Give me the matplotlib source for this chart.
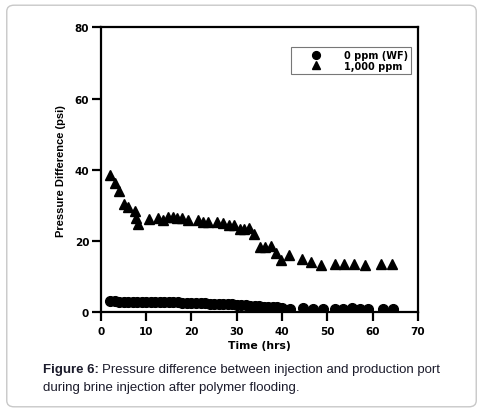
import matplotlib.pyplot as plt
from matplotlib.patches import FancyBboxPatch

plt.rcParams['font.family'] = ['Liberation Sans', 'DejaVu Sans']

# Data
t_wf = [2, 3, 4, 5, 6, 7, 8, 9, 10, 11, 12, 13, 14, 15, 16, 17, 18, 19, 20,
        21, 22, 23, 24, 25, 26, 27, 28, 29, 30, 31, 32, 33, 34, 35, 36, 37,
        38, 39, 40, 41.7, 44.7, 46.9, 49.1, 51.7, 53.5, 55.4, 57.2, 59.0,
        62.3, 64.5]
dp_wf = [3.1, 3.1, 3.0, 3.0, 3.0, 2.9, 2.9, 2.8, 2.9, 2.9, 2.8, 2.8, 2.9,
         2.9, 2.9, 2.8, 2.7, 2.6, 2.6, 2.5, 2.6, 2.5, 2.4, 2.4, 2.3, 2.3,
         2.2, 2.2, 2.1, 2.0, 2.0, 1.9, 1.8, 1.7, 1.6, 1.5, 1.5, 1.4, 1.3,
         1.0, 1.1, 1.0, 0.9, 0.9, 1.0, 1.1, 1.0, 0.8, 1.0, 0.8]

t_poly = [2, 3, 4, 5, 6, 7.5, 7.7, 8.1, 10.6, 12.6, 13.7, 14.9, 16, 16.9, 18,
          19.3, 21.4, 22.5, 23.6, 25.6, 26.9, 28.2, 29.4, 30.8, 31.7, 32.8,
          33.8, 35.2, 36.3, 37.6, 38.7, 39.8, 41.5, 44.4, 46.5, 48.7, 51.7,
          53.7, 55.9, 58.3, 61.8, 64.4]
dp_poly = [38.7, 36.2, 34.0, 30.3, 29.7, 28.4, 26.4, 24.7, 26.1, 26.4, 25.9,
           26.8, 26.8, 26.6, 26.4, 25.8, 25.9, 25.4, 25.4, 25.4, 25.0, 24.4,
           24.4, 23.3, 23.3, 23.6, 21.9, 18.4, 18.4, 18.7, 16.8, 14.6, 16.2,
           14.9, 14.2, 13.2, 13.7, 13.7, 13.7, 13.2, 13.7, 13.7]

fig = plt.figure(figsize=(4.83, 4.14), dpi=100)

# rounded frame around the figure panel
frame = FancyBboxPatch((0.014, 0.015), 0.972, 0.97,
                       boxstyle='round,pad=0,rounding_size=0.015',
                       transform=fig.transFigure, facecolor='none',
                       edgecolor='#c8c8c8', linewidth=1.0, zorder=-1)
fig.patches.append(frame)

ax = fig.add_axes([0.209, 0.2432, 0.656, 0.688])
ax.plot(t_wf, dp_wf, 'o', color='black', markersize=7, label='0 ppm (WF)')
ax.plot(t_poly, dp_poly, '^', color='black', markersize=7, label='1,000 ppm')

ax.set_xlim(0, 70)
ax.set_ylim(0, 80)
ax.set_xticks([0, 10, 20, 30, 40, 50, 60, 70])
ax.set_yticks([0, 20, 40, 60, 80])
for s in ax.spines.values():
    s.set_linewidth(1.6)
ax.tick_params(direction='out', length=6.5, width=1.6, labelsize=7.5, pad=2)
ax.tick_params(axis='x', pad=3)
for lbl in ax.get_xticklabels() + ax.get_yticklabels():
    lbl.set_fontweight('bold')
    lbl.set_family('DejaVu Sans')

ax.set_xlabel('Time (hrs)', fontsize=7.8, fontweight='bold', labelpad=3,
              family='DejaVu Sans')
ax.set_ylabel('Pressure Difference (psi)', fontsize=8, fontweight='bold',
              labelpad=6)

leg = ax.legend(loc='upper right', bbox_to_anchor=(0.978, 0.9315),
                borderaxespad=0, prop={'size': 7, 'weight': 'bold',
                                       'family': 'DejaVu Sans'},
                frameon=True, fancybox=False, edgecolor='#555555',
                handlelength=4.5, handletextpad=0.6, borderpad=0.3,
                labelspacing=0.1, markerscale=0.8)
leg.get_frame().set_linewidth(0.8)

# caption
cap1 = fig.text(0.089, 0.098, 'Figure 6:', fontsize=9.5, fontweight='bold',
                color='#1c1c2c')
fig.canvas.draw()
bb = cap1.get_window_extent()
x2 = bb.x1 / fig.bbox.width + 0.006
fig.text(x2, 0.098, 'Pressure difference between injection and production port',
         fontsize=9.5, color='#1c1c2c')
fig.text(0.089, 0.055, 'during brine injection after polymer flooding.',
         fontsize=9.5, color='#1c1c2c')

fig.savefig('out.png', dpi=100)
